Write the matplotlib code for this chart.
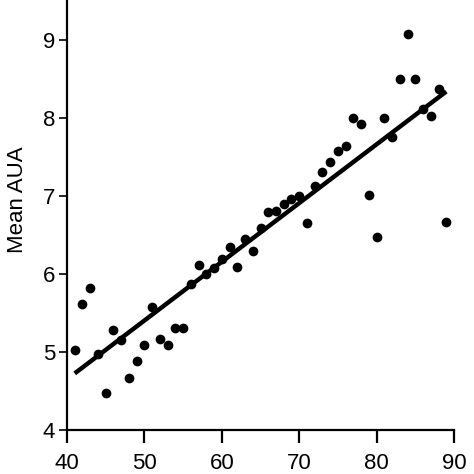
import numpy as np
import matplotlib.pyplot as plt

plt.rcParams['font.family'] = ['Liberation Sans', 'DejaVu Sans']

# values
age = [41, 42, 43, 44, 45, 46, 47, 48, 49, 50,
       51, 52, 53, 54, 55, 56, 57, 58, 59, 60,
       61, 62, 63, 64, 65, 66, 67, 68, 69, 70,
       71, 72, 73, 74, 75, 76, 77, 78, 79, 80,
       81, 82, 83, 84, 85, 86, 87, 88, 89]
mean_aua = [5.02, 5.62, 5.82, 4.98, 4.47, 5.28, 5.15, 4.67, 4.88, 5.09,
            5.57, 5.17, 5.09, 5.31, 5.31, 5.87, 6.12, 6.00, 6.07, 6.19,
            6.35, 6.09, 6.45, 6.29, 6.59, 6.79, 6.81, 6.89, 6.96, 7.00,
            6.65, 7.13, 7.30, 7.44, 7.58, 7.64, 8.00, 7.92, 7.01, 6.47,
            8.00, 7.76, 8.50, 9.08, 8.50, 8.11, 8.02, 8.37, 6.67]

x = np.array(age, dtype=float)
y = np.array(mean_aua)
k, c = np.polyfit(x, y, 1)
xl = np.array([41, 89])

fig = plt.figure(figsize=(4.74, 4.74), dpi=100)
ax = fig.add_axes([67/474, 44/474, 387/474, 430/474])

ax.plot(x, y, 'o', color='black', ms=7, mew=0)
ax.plot(xl, k*xl + c, color='black', lw=3.2, solid_capstyle='butt')

ax.set_xlim(40, 90)
ax.set_ylim(4, 9.51)
ax.set_xticks([40, 50, 60, 70, 80, 90])
ax.set_yticks([4, 5, 6, 7, 8, 9])
ax.spines['top'].set_visible(False)
ax.spines['right'].set_visible(False)
for s in ['left', 'bottom']:
    ax.spines[s].set_linewidth(1.6)
ax.tick_params(axis='x', direction='out', length=9.5, width=1.6, pad=7, labelsize=16)
ax.tick_params(axis='y', direction='out', length=6, width=1.2, pad=2.5, labelsize=16)

ax.set_ylabel('Mean AUA', fontsize=16)
ax.yaxis.set_label_coords(-0.1, 0.535)

fig.savefig('out.png', dpi=100)
